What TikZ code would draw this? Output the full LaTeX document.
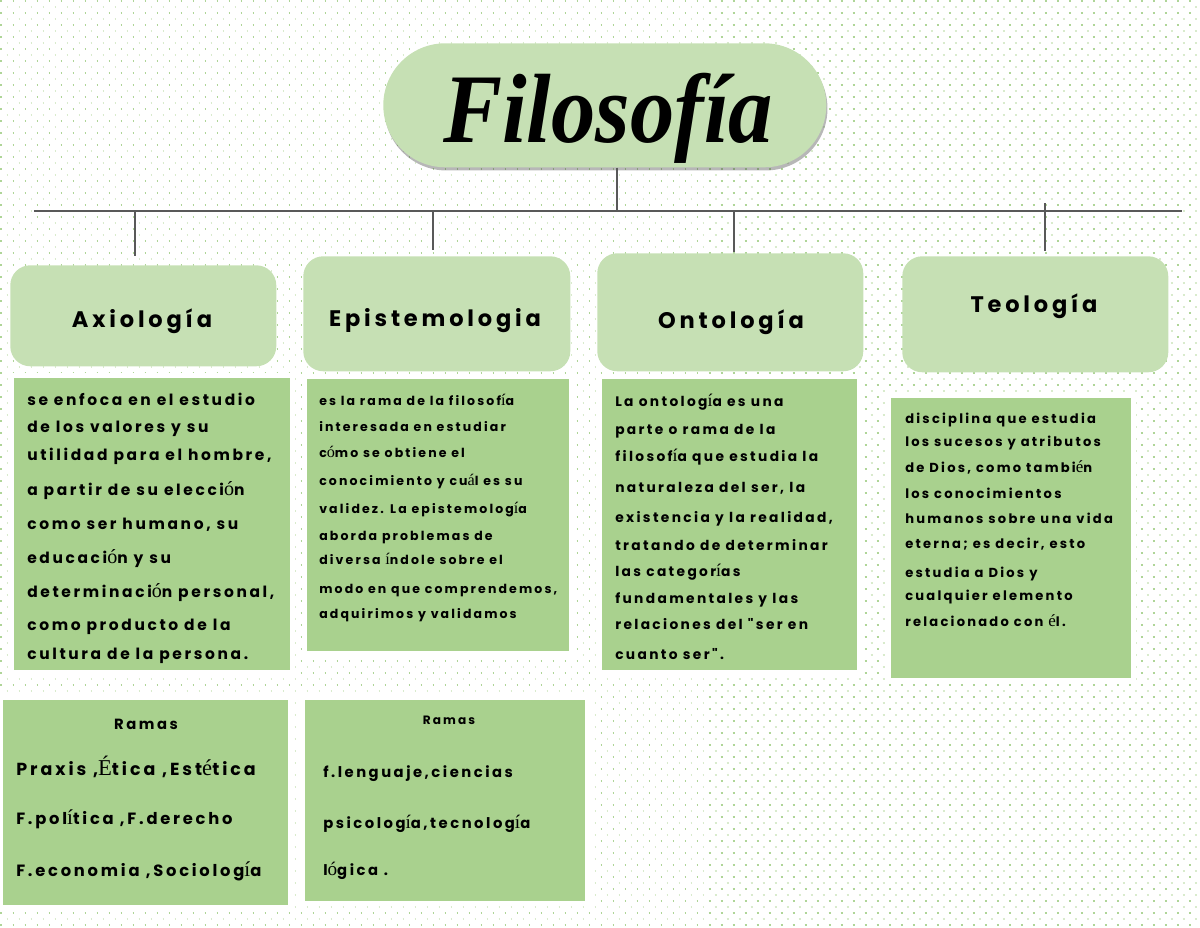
\documentclass[tikz,border=0pt]{standalone}
\usepackage{fontspec}
\newfontfamily\handfont[LetterSpace=17]{Poppins}
\newfontfamily\accfont[Scale=1.3]{Liberation Serif}
\newfontfamily\titlefont{Liberation Serif}
\newcommand{\acc}[1]{{\accfont\mdseries #1}}
\usetikzlibrary{shadows}
\definecolor{headgreen}{HTML}{C6E0B4}
\definecolor{bodygreen}{HTML}{A9D18E}
\definecolor{dotstrong}{HTML}{AFD598}
\definecolor{dotlight}{HTML}{D9EBCD}
\definecolor{rulegray}{HTML}{595959}
\tikzset{
sized/.style 2 args={minimum width=#1*0.025cm, minimum height=#2*0.025cm, inner sep=0pt, anchor=north west},
headbox/.style={fill=headgreen, rounded corners=0.5cm},
bodybox/.style={fill=bodygreen, preaction={draw=white, line width=0.25cm}},
headtext/.style={font=\handfont\bfseries\fontsize{16}{20}\selectfont, anchor=base},
linetext/.style={font=\handfont\bfseries\fontsize{#1}{12}\selectfont, anchor=base west, inner sep=0pt},
ruleline/.style={rulegray, line width=0.03cm},
}
\begin{document}
\begin{tikzpicture}[x=0.025cm,y=-0.025cm]
\useasboundingbox (0,0) rectangle (1200,927);

%%Dots
\foreach \y in {0,...,77} {
  \draw[dotstrong, line width=0.045cm, dash pattern=on 0.045cm off 0.255cm] (0.5,1+12*\y) -- (1200,1+12*\y);
  \draw[dotlight, line width=0.045cm, dash pattern=on 0.045cm off 0.255cm] (6.5,7+12*\y) -- (1200,7+12*\y);
}

%%Rules
\coordinate (busL) at (34,211);
\coordinate (busR) at (1182,211);
\coordinate (trunk) at (617,211);
\draw[ruleline] (busL) -- (busR);
\foreach \n/\x/\a/\b in {ax/135/211/256, ep/433/211/250, on/734/211/252, te/1045/203/251} {
  \coordinate (\n top) at (\x,\a);
  \coordinate (\n end) at (\x,\b);
  \draw[ruleline] (\n top) -- (\n end);
}

%%Title
\node[sized={443}{124}, fill=headgreen, rounded corners=1.55cm,
drop shadow={shadow xshift=0.03cm, shadow yshift=-0.08cm, opacity=0.4, fill=black!70}] (title) at (383,43) {};
\draw[ruleline] (title.south -| trunk) -- (trunk);
\node[font=\titlefont\bfseries\itshape\fontsize{70}{70}\selectfont, anchor=base] (titletext) at (608,142) {\scalebox{0.9}[1]{Filosofía}};

%%Heads
\node[headbox, sized={266}{101}] (axhead) at (10,265) {};
\node[headbox, sized={267}{115}] (ephead) at (303,256) {};
\node[headbox, sized={266}{118}] (onhead) at (597,253) {};
\node[headbox, sized={266}{116}] (tehead) at (902,256) {};
\node[headtext] (axtext) at (142,327) {Axiología};
\node[headtext] (eptext) at (435,326) {Epistemologia};
\node[headtext] (ontext) at (731,328) {Ontología};
\node[headtext] (tetext) at (1034,312) {Teología};

%%Bodies
\node[bodybox, sized={276}{292}] (axbody) at (14,378) {};
\node[bodybox, sized={262}{272}] (epbody) at (307,379) {};
\node[bodybox, sized={255}{291}] (onbody) at (602,379) {};
\node[bodybox, sized={240}{280}] (tebody) at (891,398) {};
\node[bodybox, sized={285}{205}] (axramas) at (3,700) {};
\node[bodybox, sized={280}{201}] (epramas) at (305,700) {};

\foreach \y/\txt [count=\n] in {405/se enfoca en el estudio, 432/de los valores y su,
460/{utilidad para el hombre,}, 495/a partir de su elecci\acc{ó}n, 529/{como ser humano, su},
563/educaci\acc{ó}n y su, 597/{determinaci\acc{ó}n personal,}, 630/como producto de la,
659/cultura de la persona.} {
  \node[linetext=11] (axline\n) at (27,\y) {\txt};
}

\foreach \y/\txt [count=\n] in {405/es la rama de la filosof\acc{í}a, 431/interesada en estudiar,
457/c\acc{ó}mo se obtiene el, 485/conocimiento y cu\acc{á}l es su, 513/validez. La epistemolog\acc{í}a,
540/aborda problemas de, 564/diversa \acc{í}ndole sobre el, 593/{modo en que comprendemos,},
618/adquirimos y validamos} {
  \node[linetext=8.9] (epline\n) at (319,\y) {\txt};
}

\foreach \y/\txt [count=\n] in {406/La ontolog\acc{í}a es una, 434/parte o rama de la,
461/filosof\acc{í}a que estudia la, 492/{naturaleza del ser, la}, 522/{existencia y la realidad,},
550/tratando de determinar, 576/las categor\acc{í}as, 603/fundamentales y las,
629/relaciones del "ser en, 659/cuanto ser".} {
  \node[linetext=9.8] (online\n) at (615,\y) {\txt};
}

\foreach \y/\txt [count=\n] in {423/disciplina que estudia, 446/los sucesos y atributos,
472/{de Dios, como tambi\acc{é}n}, 498/los conocimientos, 523/humanos sobre una vida,
548/{eterna; es decir, esto}, 577/estudia a Dios y, 600/cualquier elemento,
626/relacionado con \acc{é}l.} {
  \node[linetext=9.3] (teline\n) at (905,\y) {\txt};
}

%%Ramas
\node[linetext=10.5, anchor=base] (axramastitle) at (146,729) {Ramas};
\node[linetext=8.6, anchor=base] (epramastitle) at (449,724) {Ramas};
\node[linetext=12.4] (axrama1) at (16,775) {Praxis ,\acc{É}tica ,Est\acc{é}tica};
\foreach \y/\txt [count=\n from 2] in {824/{F.pol\acc{í}tica ,F.derecho}, 876/{F.economia ,Sociolog\acc{í}a}} {
  \node[linetext=11.6] (axrama\n) at (16,\y) {\txt};
}
\foreach \y/\txt [count=\n] in {777/{f.lenguaje,ciencias}, 828/{psicolog\acc{í}a,tecnolog\acc{í}a},
875/l\acc{ó}gica .} {
  \node[linetext=10.5] (eprama\n) at (323,\y) {\txt};
}

\end{tikzpicture}
\end{document}
